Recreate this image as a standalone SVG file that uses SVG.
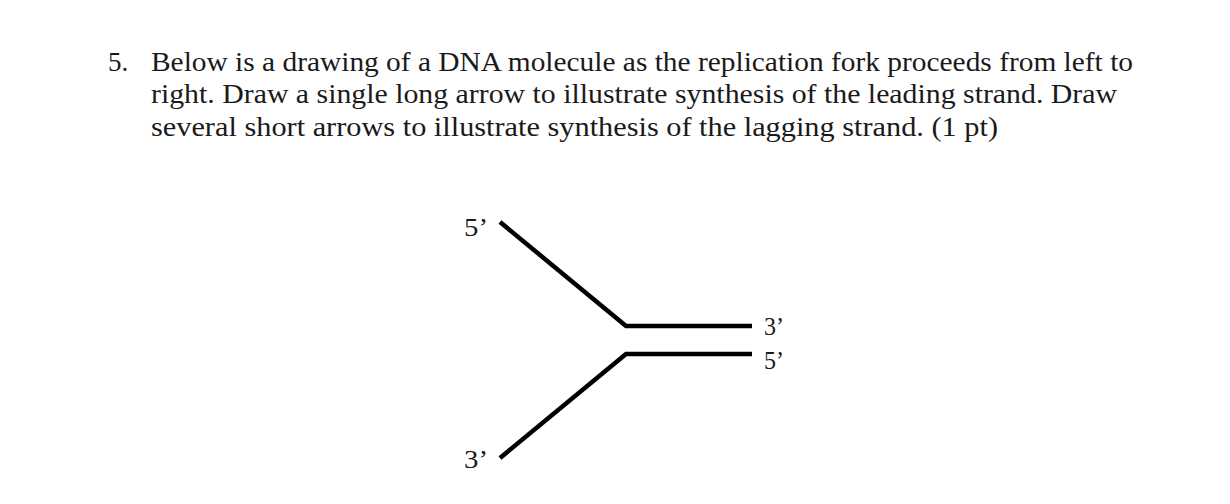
<svg xmlns="http://www.w3.org/2000/svg" width="1230" height="504" viewBox="0 0 1230 504">
<style>
.q{font-family:"Liberation Serif","DejaVu Serif",serif;font-size:27px;fill:#1a1a1a}
.l{font-family:"Liberation Serif","DejaVu Serif",serif;font-size:26px;fill:#1a1a1a}
.s{fill:none;stroke:#000;stroke-width:4.5;stroke-linejoin:miter}
</style>
<rect width="1230" height="504" fill="#fff"/>
<g id="question">
<text class="q" x="108" y="71">5.</text>
<text class="q" x="151" y="71" textLength="982" lengthAdjust="spacingAndGlyphs">Below is a drawing of a DNA molecule as the replication fork proceeds from left to</text>
<text class="q" x="151" y="103" textLength="966" lengthAdjust="spacingAndGlyphs">right. Draw a single long arrow to illustrate synthesis of the leading strand. Draw</text>
<text class="q" x="151" y="136" textLength="847" lengthAdjust="spacingAndGlyphs">several short arrows to illustrate synthesis of the lagging strand. (1 pt)</text>
</g>
<g id="connectors">
<polyline id="top-strand" class="s" points="500,222 626,326 752,326"/>
<polyline id="bottom-strand" class="s" points="500,458 626,354 752,354"/>
</g>
<g id="labels">
<text class="l" x="464" y="236" textLength="24" lengthAdjust="spacingAndGlyphs">5’</text>
<text class="l" x="764" y="335" textLength="20" lengthAdjust="spacingAndGlyphs">3’</text>
<text class="l" x="764" y="369" textLength="20" lengthAdjust="spacingAndGlyphs">5’</text>
<text class="l" x="464" y="468" textLength="24" lengthAdjust="spacingAndGlyphs">3’</text>
</g>
</svg>
